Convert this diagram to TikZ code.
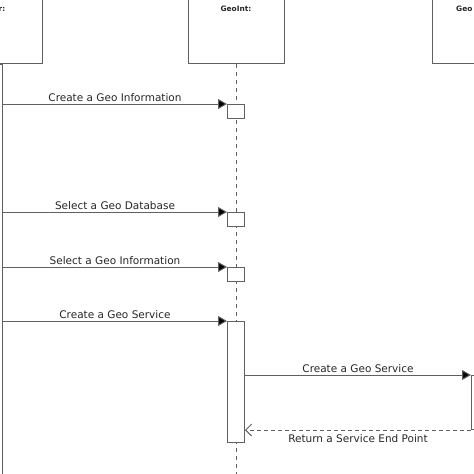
\documentclass[tikz,border=0pt]{standalone}
\usepackage{fontspec}
\setmainfont{DejaVu Sans}
\usetikzlibrary{arrows.meta,positioning}
\definecolor{linegray}{HTML}{606060}

\begin{document}
\begin{tikzpicture}[x=1pt,y=-1pt,
	lifebox/.style={
		draw=linegray,
		line width=1pt,
		minimum width=96pt,
		minimum height=90pt,
		anchor=south,
		inner sep=0pt
	},
	boxname/.style={font=\bfseries\fontsize{7.4}{8}\selectfont, text=black!85, inner sep=0pt},
	actbar/.style={
		draw=linegray,
		fill=white,
		line width=1pt,
		minimum width=17pt,
		anchor=north,
		inner sep=0pt
	},
	lifeline/.style={draw=linegray, line width=1pt, dash pattern=on 4pt off 4pt},
	msg/.style={draw=linegray, line width=1pt, -{Triangle[length=9pt,width=10pt,fill=black]}},
	reply/.style={draw=linegray, line width=1pt, dash pattern=on 4pt off 3pt, -{Straight Barb[length=6pt,width=12pt]}},
	msglabel/.style={font=\fontsize{10.5}{12}\selectfont, text=black!85, inner sep=1.5pt}]

	\clip (0,0) rectangle (474,474);

	% heads of the lifelines
	\node[lifebox] (user) at (-6,64) {};
	\node[lifebox] (geoint) at (236,64) {};
	\node[lifebox] (geoserver) at (480,64) {};
	\node[boxname, anchor=east] (username) at (5.5,9) {r:};
	\node[boxname] (geointname) at (236,9) {GeoInt:};
	\node[boxname, anchor=west] (geoservername) at (456,9) {Geo};

	% lifelines
	\coordinate (geoend) at (236,474);
	\draw[lifeline] (geoint.south) -- (geoend);
	\node[actbar, minimum height=420pt] (userbar) at (-6,64) {};

	% activations
	\node[actbar, minimum height=14pt] (act1) at (236,104) {};
	\node[actbar, minimum height=14pt] (act2) at (236,212) {};
	\node[actbar, minimum height=14pt] (act3) at (236,267) {};
	\node[actbar, minimum height=121pt] (act4) at (236,321) {};
	\node[actbar, minimum height=54pt] (act5) at (480,375) {};

	% messages
	\draw[msg] (userbar.east |- act1.north) -- node[msglabel, above] {Create a Geo Information} (act1.north west);
	\draw[msg] (userbar.east |- act2.north) -- node[msglabel, above] {Select a Geo Database} (act2.north west);
	\draw[msg] (userbar.east |- act3.north) -- node[msglabel, above] {Select a Geo Information} (act3.north west);
	\draw[msg] (userbar.east |- act4.north) -- node[msglabel, above] {Create a Geo Service} (act4.north west);
	\draw[msg] (act4.east |- act5.north) -- node[msglabel, above] {Create a Geo Service} (act5.north west);
	\draw[reply] (act5.south west) -- node[msglabel, below, inner sep=4pt] {Return a Service End Point} (act4.east |- act5.south);
\end{tikzpicture}
\end{document}
